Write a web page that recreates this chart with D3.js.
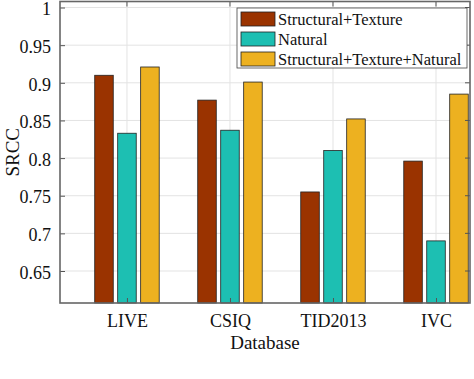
<!DOCTYPE html>
<html><head><meta charset="utf-8">
<script src="https://cdn.jsdelivr.net/npm/d3@7"></script>
<style>body{margin:0;background:#fff}svg{display:block}</style>
</head><body><svg id="c" width="474" height="379"></svg>
<script>
const categories = ["LIVE","CSIQ","TID2013","IVC"];
const seriesNames = ["Structural+Texture","Natural","Structural+Texture+Natural"];
const structTexture = [0.910, 0.877, 0.755, 0.796];
const natural = [0.833, 0.837, 0.810, 0.690];
const combined = [0.921, 0.901, 0.852, 0.885];
const yTicks = [0.65,0.7,0.75,0.8,0.85,0.9,0.95,1];
const colors = ["#9A3300","#1DBFB2","#EDB120"];
const series = [structTexture, natural, combined];
const FONT = "Liberation Serif, Times New Roman, Times, Tinos, Nimbus Roman, Noto Serif, DejaVu Serif, FreeSerif, serif";

const svg = d3.select("#c").style("font-family", FONT);
const L = 60, R = 470, T = 1.5, B = 303;
const x = d3.scaleLinear().domain([0.35, 4.33]).range([L, R]);
const y = d3.scaleLinear().domain([0.6075, 1.008]).range([B, T]);
const off = 0.223, bw = 0.18;

svg.append("g").selectAll("line").data(yTicks).join("line")
  .attr("x1", L).attr("x2", R).attr("y1", d=>y(d)).attr("y2", d=>y(d))
  .attr("stroke", "#e3e3e3").attr("stroke-width", 1);
svg.append("g").selectAll("line").data(categories).join("line")
  .attr("x1", (d,i)=>x(i+1)).attr("x2", (d,i)=>x(i+1)).attr("y1", T).attr("y2", B)
  .attr("stroke", "#e3e3e3").attr("stroke-width", 1);

series.forEach((s, k) => {
  svg.append("g").selectAll("rect").data(s).join("rect")
    .attr("x", (d,i)=>x(i+1 + (k-1)*off - bw/2))
    .attr("width", x(bw) - x(0))
    .attr("y", d=>y(d))
    .attr("height", d=>B - y(d))
    .attr("fill", colors[k]).attr("stroke", "#222").attr("stroke-width", 0.8);
});

const yAxis = d3.axisLeft(y).tickValues(yTicks).tickSize(-5).tickPadding(9).tickFormat(d=>d3.format("")(d));
const gy = svg.append("g").attr("transform", `translate(${L},0)`).call(yAxis);
const xAxis = d3.axisBottom(x).tickValues([1,2,3,4]).tickSize(-5).tickPadding(11).tickFormat((d)=>categories[d-1]);
const gx = svg.append("g").attr("transform", `translate(0,${B})`).call(xAxis);
[gy, gx].forEach(g => {
  g.attr("font-family", null);
  g.select(".domain").remove();
  g.selectAll(".tick line").attr("stroke", "#555");
  g.selectAll(".tick text").attr("font-size", 18).attr("fill", "#111").style("font-family", FONT);
});
gy.selectAll(".tick text").attr("dy", "0.4em");
svg.append("g").selectAll("line").data([1,2,3,4]).join("line")
  .attr("x1", d=>x(d)).attr("x2", d=>x(d)).attr("y1", T).attr("y2", T+5).attr("stroke", "#555");
svg.append("g").selectAll("line").data(yTicks).join("line")
  .attr("x1", R-5).attr("x2", R).attr("y1", d=>y(d)).attr("y2", d=>y(d)).attr("stroke", "#555");
svg.append("rect").attr("x", L).attr("y", T).attr("width", R-L).attr("height", B-T)
  .attr("fill", "none").attr("stroke", "#666").attr("stroke-width", 1.6);

svg.append("text").attr("x", (L+R)/2).attr("y", 349).attr("text-anchor", "middle")
  .attr("font-size", 19).attr("fill", "#111").style("font-family", FONT).text("Database");
svg.append("text").attr("transform", `translate(19,${(T+B)/2}) rotate(-90)`).attr("text-anchor", "middle")
  .attr("font-size", 19).attr("fill", "#111").style("font-family", FONT).text("SRCC");

const lg = svg.append("g");
lg.append("rect").attr("x", 237).attr("y", 8).attr("width", 230).attr("height", 60)
  .attr("fill", "#fff").attr("stroke", "#444").attr("stroke-width", 0.8);
seriesNames.forEach((n, k) => {
  const cy = 19 + k*20;
  lg.append("rect").attr("x", 241).attr("y", cy-7).attr("width", 34).attr("height", 14)
    .attr("fill", colors[k]).attr("stroke", "#222").attr("stroke-width", 0.8);
  lg.append("text").attr("x", 278).attr("y", cy+5.5).attr("font-size", 16.5).attr("fill", "#111")
    .style("font-family", FONT).text(n);
});
</script></body></html>
